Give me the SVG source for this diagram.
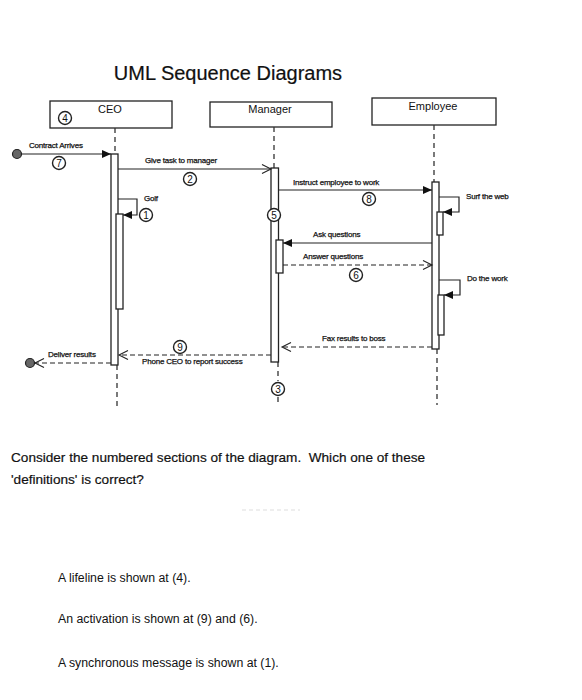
<svg xmlns="http://www.w3.org/2000/svg" width="582" height="700" viewBox="0 0 582 700">
<defs>
<style>
.t{font-family:"Liberation Sans",Arial,sans-serif;fill:#111}
.lbl{font-size:8px;letter-spacing:-0.2px;stroke:#111;stroke-width:0.25}
.box{fill:#fff;stroke:#222;stroke-width:1.3}
.bar{fill:#fff;stroke:#222;stroke-width:1.3}
.life{stroke:#333;stroke-width:1.3;stroke-dasharray:5 4;fill:none}
.msg{stroke:#222;stroke-width:1.2;fill:none}
.ret{stroke:#222;stroke-width:1.2;fill:none;stroke-dasharray:5 3}
.num{fill:#fff;stroke:#222;stroke-width:1.4}
.nt{font-family:"Liberation Sans",Arial,sans-serif;font-size:10px;fill:#111;text-anchor:middle}
.dot{fill:#666;stroke:#222;stroke-width:1.2}
.q{stroke:#111;stroke-width:0.2}
</style>
<marker id="fill" markerUnits="userSpaceOnUse" markerWidth="10" markerHeight="10" refX="9" refY="5" orient="auto">
<path d="M0,1 L9,5 L0,9 Z" fill="#111"/>
</marker>
<marker id="open" markerUnits="userSpaceOnUse" markerWidth="12" markerHeight="12" refX="10" refY="6" orient="auto">
<path d="M1,1.5 L10,6 L1,10.5" fill="none" stroke="#222" stroke-width="1.1"/>
</marker>
</defs>
<rect width="582" height="700" fill="#fff"/>
<text class="t q" x="228" y="80" font-size="20" text-anchor="middle">UML Sequence Diagrams</text>

<g id="ceo">
<rect class="box" x="50" y="101" width="122" height="27"/>
<text class="t" x="110" y="113" font-size="11" text-anchor="middle">CEO</text>
<circle class="num" cx="65" cy="118" r="6.5"/><text class="nt" x="65" y="121.6">4</text>
<path class="life" d="M115,128 V154 M117,365 V406"/>
<rect class="bar" x="111" y="154" width="7" height="211"/>
<rect class="bar" x="116" y="214" width="7" height="95"/>
</g>

<g id="manager">
<rect class="box" x="210" y="102" width="122" height="25"/>
<text class="t" x="270" y="113" font-size="11" text-anchor="middle">Manager</text>
<path class="life" d="M274,127 V168 M278,362 V381 M278,397 V405"/>
<rect class="bar" x="271" y="168" width="7.5" height="194"/>
<rect class="bar" x="276" y="240" width="7" height="33"/>
<circle class="num" cx="274" cy="215" r="6.5"/><text class="nt" x="274" y="218.6">5</text>
<circle class="num" cx="278" cy="389" r="6.5"/><text class="nt" x="278" y="392.6">3</text>
</g>

<g id="employee">
<rect class="box" x="372" y="98" width="124" height="27"/>
<text class="t" x="433" y="110" font-size="11" text-anchor="middle">Employee</text>
<path class="life" d="M434,125 V182 M437,349 V405"/>
<rect class="bar" x="432" y="182" width="7" height="167"/>
<rect class="bar" x="437" y="212" width="6" height="23"/>
<rect class="bar" x="438" y="295" width="6" height="40"/>
</g>

<g id="connectors">
<circle class="dot" cx="17" cy="154" r="4.5"/>
<path class="msg" d="M21,154 H111" marker-end="url(#fill)"/>
<text class="t lbl" x="29" y="148">Contract Arrives</text>
<circle class="num" cx="59" cy="163" r="6.5"/><text class="nt" x="59" y="166.6">7</text>

<path class="msg" d="M118,169 H271" marker-end="url(#open)"/>
<text class="t lbl" x="145" y="163">Give task to manager</text>
<circle class="num" cx="190" cy="179" r="6.5"/><text class="nt" x="190" y="182.6">2</text>

<path class="msg" d="M118,199 H137 V215 H123" marker-end="url(#fill)"/>
<text class="t lbl" x="144" y="201">Golf</text>
<circle class="num" cx="146" cy="215" r="6.5"/><text class="nt" x="146" y="218.6">1</text>

<path class="msg" d="M279,190 H432" marker-end="url(#fill)"/>
<text class="t lbl" x="293" y="185">Instruct employee to work</text>
<circle class="num" cx="369" cy="199" r="6.5"/><text class="nt" x="369" y="202.6">8</text>

<path class="msg" d="M439,197 H459 V212 H443" marker-end="url(#fill)"/>
<text class="t lbl" x="466" y="199">Surf the web</text>

<path class="msg" d="M432,243 H283" marker-end="url(#fill)"/>
<text class="t lbl" x="313" y="237">Ask questions</text>

<path class="ret" d="M283,265 H432" marker-end="url(#open)"/>
<text class="t lbl" x="303" y="259">Answer questions</text>
<circle class="num" cx="356" cy="275" r="6.5"/><text class="nt" x="356" y="278.6">6</text>

<path class="msg" d="M439,280 H460 V295 H444" marker-end="url(#fill)"/>
<text class="t lbl" x="467" y="281">Do the work</text>

<path class="ret" d="M432,347 H282" marker-end="url(#open)"/>
<text class="t lbl" x="322" y="341">Fax results to boss</text>

<path class="ret" d="M271,355 H119" marker-end="url(#open)"/>
<circle class="num" cx="180" cy="347" r="6.5"/><text class="nt" x="180" y="350.6">9</text>
<text class="t lbl" x="142" y="364">Phone CEO to report success</text>

<path class="ret" d="M111,363 H35" marker-end="url(#open)"/>
<circle class="dot" cx="30" cy="363" r="4.5"/>
<text class="t lbl" x="48" y="357">Deliver results</text>
</g>

<g id="question">
<text class="t q" x="11" y="462" font-size="13.6" xml:space="preserve">Consider the numbered sections of the diagram.  Which one of these</text>
<text class="t q" x="11" y="484" font-size="13.6">'definitions' is correct?</text>
<path d="M242,510 H300" stroke="#ddd" stroke-width="1" stroke-dasharray="4 3"/>
<text class="t" x="58" y="582" font-size="12.3">A lifeline is shown at (4).</text>
<text class="t" x="58" y="623" font-size="12.3">An activation is shown at (9) and (6).</text>
<text class="t" x="58" y="667" font-size="12.3">A synchronous message is shown at (1).</text>
</g>
</svg>
